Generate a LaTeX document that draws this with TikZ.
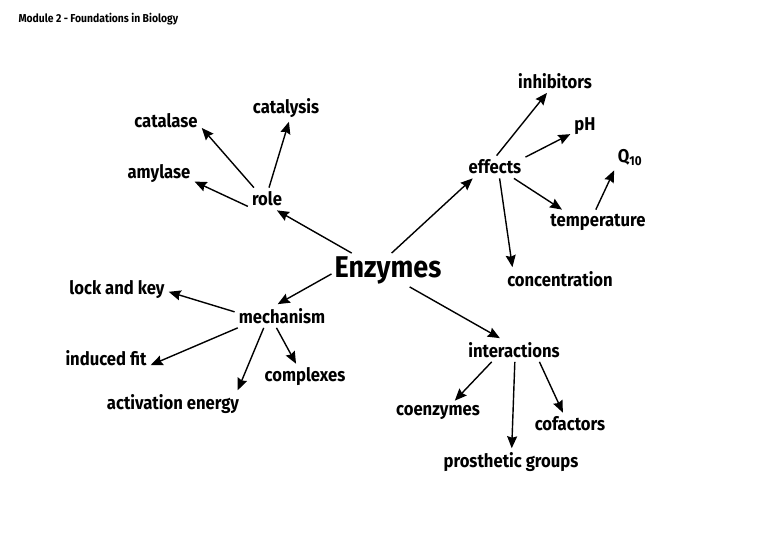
\documentclass[tikz,border=0pt]{standalone}
\usepackage{fontspec}
\setmainfont{Fira Sans}[FakeStretch=0.9]
\usetikzlibrary{arrows.meta}

\begin{document}
\begin{tikzpicture}[x=1pt, y=-1pt,
  word/.style = {font=\bfseries\fontsize{18.5}{20}\selectfont, inner sep=4pt},
  arr/.style = {line width=1.4pt, -{Stealth[length=12pt,width=10pt,inset=1.5pt]}}]
\useasboundingbox (0,0) rectangle (768,543);
\node[anchor=west, font=\bfseries\fontsize{11.5}{13}\selectfont] (title) at (15,19) {Module 2 - Foundations in Biology};
\node[font=\bfseries\fontsize{30}{34}\selectfont, inner sep=3pt] (enz) at (388,270) {Enzymes};
% role
\node[word] (role) at (267,199) {role};
\node[word] (catalase) at (166,121) {catalase};
\node[word] (catalysis) at (286,108) {catalysis};
\node[word] (amylase) at (159,174) {amylase};
% effects
\node[word] (effects) at (495,167) {effects};
\node[word] (inhibitors) at (555,81) {inhibitors};
\node[word] (ph) at (585,126) {pH};
\node[word] (q10) at (630,158) {Q\textsubscript{10}};
\node[word] (temp) at (598,222) {temperature};
\node[word] (conc) at (560,279) {concentration};
% mechanism
\node[word] (mech) at (282,316) {mechanism};
\node[word] (lock) at (117,290) {lock and key};
\node[word] (induced) at (106,358) {induced fit};
\node[word] (activ) at (173,404) {activation energy};
\node[word] (complex) at (305,377) {complexes};
% interactions
\node[word] (inter) at (514,350) {interactions};
\node[word] (coenz) at (438,412) {coenzymes};
\node[word] (prosth) at (511,462) {prosthetic groups};
\node[word] (cofact) at (570,424) {cofactors};

\draw[arr] (enz.155) -- (role.311);
\draw[arr] (role.139) -- (catalase.349);
\draw[arr] (role.80) -- (catalysis.282);
\draw[arr] (role.201) -- (amylase.348);
\draw[arr] (enz.78) -- (effects.207);
\draw[arr] (effects.82) -- (inhibitors.236);
\draw[arr] (effects.18) -- (ph.209);
\draw[arr] (effects.329) -- (temp.161);
\draw[arr] (effects.292) -- (conc.166);
\draw[arr] (temp.100) -- (q10.218);
\draw[arr] (enz.184) -- (mech.110);
\draw[arr] (mech.175) -- (lock.358);
\draw[arr] (mech.195) -- (induced.351);
\draw[arr] (mech.213) -- (activ.12);
\draw[arr] (mech.245) -- (complex.124);
\draw[arr] (enz.322) -- (inter.140);
\draw[arr] (inter.208) -- (coenz.34);
\draw[arr] (inter.274) -- (prosth.87);
\draw[arr] (inter.335) -- (cofact.122);
\end{tikzpicture}
\end{document}
